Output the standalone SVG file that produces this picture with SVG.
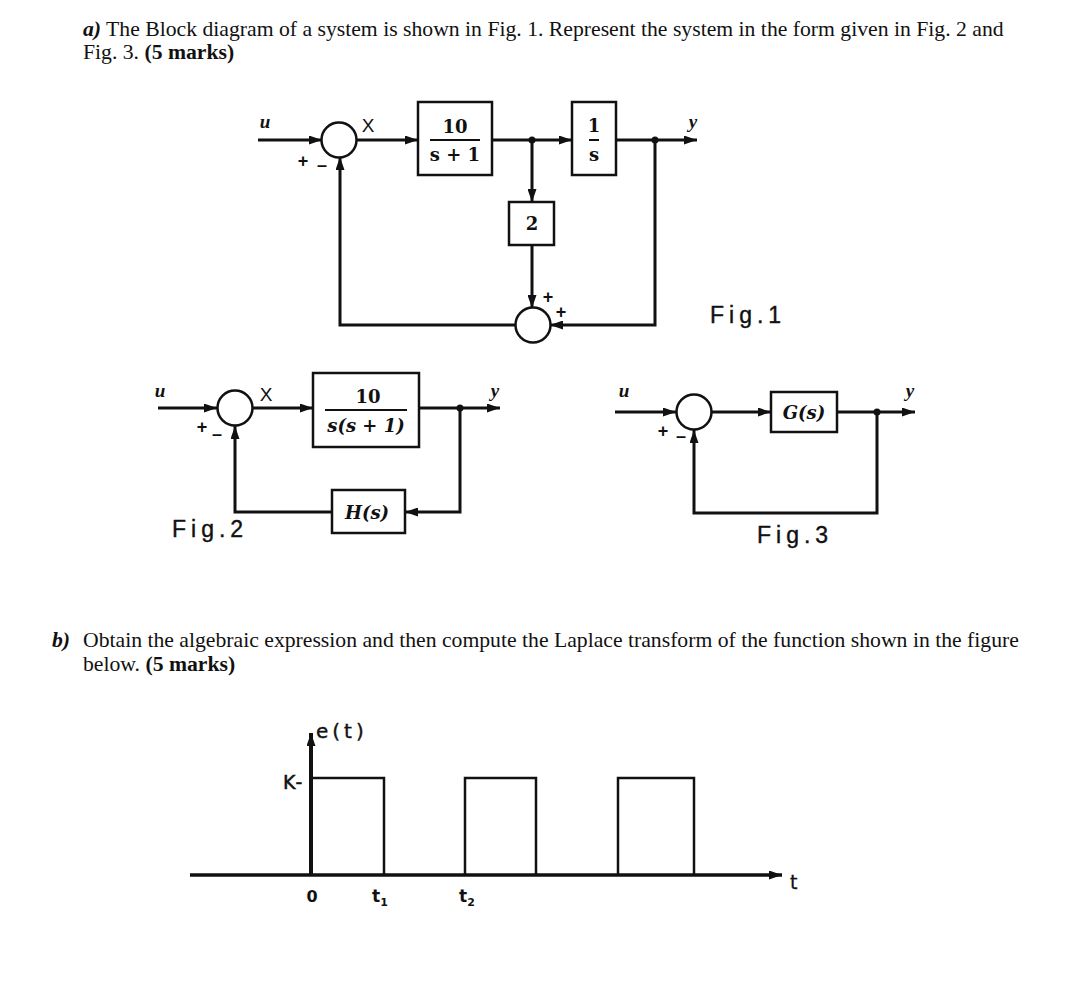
<svg xmlns="http://www.w3.org/2000/svg" width="1080" height="1005" viewBox="0 0 1080 1005">
<defs>
<marker id="ah" viewBox="0 0 13 9" refX="13" refY="4.5" markerWidth="13" markerHeight="9" markerUnits="userSpaceOnUse" orient="auto">
<path d="M0,0 L13,4.5 L0,9 z" fill="#111"/>
</marker>
<style>
.txt{font-family:"Liberation Serif",serif;font-size:21.7px;fill:#111}
.b{font-weight:bold}
.it{font-style:italic}
.wire{fill:none;stroke:#111;stroke-width:3;stroke-linejoin:miter}
.arr{marker-end:url(#ah)}
.box{fill:#fff;stroke:#111;stroke-width:2.5}
.sum{fill:#fff;stroke:#111;stroke-width:2.5}
.dot{fill:#111}
.blk{font-family:"DejaVu Serif","Liberation Serif",serif;font-weight:bold;font-size:18px;fill:#111;text-anchor:middle}
.bi{font-style:italic}
.var{font-family:"Liberation Serif",serif;font-weight:bold;font-style:italic;font-size:19px;fill:#111;text-anchor:middle}
.sign{font-family:"Liberation Sans",sans-serif;font-weight:bold;font-size:18px;fill:#111;text-anchor:middle}
.xl{font-family:"Liberation Sans",sans-serif;font-size:19px;fill:#111;text-anchor:middle}
.fig{font-family:"Liberation Sans",sans-serif;font-size:23px;letter-spacing:5px;fill:#111;stroke:#111;stroke-width:0.4}
.frac{stroke:#111;stroke-width:2}
.gl{font-family:"DejaVu Sans","Liberation Sans",sans-serif;fill:#111}
</style>
</defs>
<rect width="1080" height="1005" fill="#fff"/>

<g id="question-a">
<text class="txt" x="83" y="36"><tspan class="b it">a)</tspan> The Block diagram of a system is shown in Fig. 1. Represent the system in the form given in Fig. 2 and</text>
<text class="txt" x="83" y="59">Fig. 3. <tspan class="b">(5 marks)</tspan></text>
</g>

<!-- Fig.1 -->
<g id="fig1-connectors">
<path class="wire arr" d="M258,140 H322"/>
<path class="wire arr" d="M357,140 H418"/>
<path class="wire arr" d="M492,140 H572"/>
<path class="wire arr" d="M616,140 H697"/>
<path class="wire arr" d="M532,140 V202"/>
<path class="wire arr" d="M532,245 V308"/>
<path class="wire arr" d="M655,140 V325 H550"/>
<path class="wire arr" d="M516,325 H340 V157"/>
<circle class="dot" cx="532" cy="140" r="3.5"/>
<circle class="dot" cx="655" cy="140" r="3.5"/>
</g>
<g id="fig1-sum1">
<circle class="sum" cx="339" cy="140" r="17.5"/>
<text class="sign" x="303" y="167">+</text>
<text class="sign" x="322" y="171">–</text>
</g>
<g id="fig1-labels">
<text class="var" x="265" y="128">u</text>
<text class="xl" x="368" y="132">X</text>
<text class="var" x="693" y="128">y</text>
</g>
<g id="fig1-g1">
<rect class="box" x="418" y="102" width="74" height="73"/>
<text class="blk" x="455" y="133" font-size="22">10</text>
<line class="frac" x1="430" y1="140" x2="480" y2="140"/>
<text class="blk" x="455" y="161" font-size="18">s + 1</text>
</g>
<g id="fig1-g2">
<rect class="box" x="572" y="102" width="44" height="73"/>
<text class="blk" x="594" y="132" font-size="15">1</text>
<line class="frac" x1="589" y1="140" x2="599" y2="140"/>
<text class="blk" x="594" y="161" font-size="15">s</text>
</g>
<g id="fig1-gain">
<rect class="box" x="509" y="202" width="45" height="43"/>
<text class="blk" x="532" y="230" font-size="16">2</text>
</g>
<g id="fig1-sum2">
<circle class="sum" cx="533" cy="325" r="17.5"/>
<text class="sign" x="548" y="303">+</text>
<text class="sign" x="561" y="318">+</text>
</g>
<text id="fig1-caption" class="fig" x="710" y="323">Fig.1</text>

<!-- Fig.2 -->
<g id="fig2-connectors">
<path class="wire arr" d="M158,408 H217"/>
<path class="wire arr" d="M253,408 H313"/>
<path class="wire arr" d="M419,408 H500"/>
<path class="wire arr" d="M460,408 V512 H405"/>
<path class="wire arr" d="M332,512 H235 V426"/>
<circle class="dot" cx="460" cy="408" r="3.5"/>
</g>
<g id="fig2-sum">
<circle class="sum" cx="235" cy="408" r="17.5"/>
<text class="sign" x="202" y="433">+</text>
<text class="sign" x="217" y="440">–</text>
</g>
<g id="fig2-labels">
<text class="var" x="160" y="397">u</text>
<text class="xl" x="266" y="401">X</text>
<text class="var" x="495" y="397">y</text>
</g>
<g id="fig2-g">
<rect class="box" x="313" y="373" width="106" height="74"/>
<text class="blk" x="368" y="403" font-size="17">10</text>
<line class="frac" x1="325" y1="410" x2="407" y2="410"/>
<text class="blk bi" x="366" y="432" font-size="18">s(s + 1)</text>
</g>
<g id="fig2-h">
<rect class="box" x="332" y="490" width="73" height="43"/>
<text class="blk bi" x="367" y="519" font-size="18">H(s)</text>
</g>
<text id="fig2-caption" class="fig" x="172" y="537">Fig.2</text>

<!-- Fig.3 -->
<g id="fig3-connectors">
<path class="wire arr" d="M615,412 H676"/>
<path class="wire arr" d="M712,412 H771"/>
<path class="wire arr" d="M837,412 H915"/>
<path class="wire arr" d="M877,412 V513 H694 V430"/>
<circle class="dot" cx="877" cy="412" r="3.5"/>
</g>
<g id="fig3-sum">
<circle class="sum" cx="694" cy="412" r="17.5"/>
<text class="sign" x="663" y="437">+</text>
<text class="sign" x="681" y="442">–</text>
</g>
<g id="fig3-labels">
<text class="var" x="624" y="397">u</text>
<text class="var" x="910" y="397">y</text>
</g>
<g id="fig3-g">
<rect class="box" x="771" y="392" width="66" height="40"/>
<text class="blk bi" x="804" y="419" font-size="18">G(s)</text>
</g>
<text id="fig3-caption" class="fig" x="757" y="543">Fig.3</text>

<g id="question-b">
<text class="txt" x="52" y="647"><tspan class="b it">b)</tspan></text>
<text class="txt" x="83" y="647">Obtain the algebraic expression and then compute the Laplace transform of the function shown in the figure</text>
<text class="txt" x="83" y="671">below. <tspan class="b">(5 marks)</tspan></text>
</g>

<g id="graph">
<path class="wire arr" d="M190,875 H782" style="stroke-width:3.5"/>
<path class="wire arr" d="M311,875 V733" style="stroke-width:4"/>
<path fill="none" stroke="#111" stroke-width="2.5" d="M311,778 H384 V875 M465,875 V778 H536 V875 M618,875 V778 H694 V875"/>
<text class="gl" x="316" y="738" font-size="20" letter-spacing="4" stroke="#111" stroke-width="0.4">e(t)</text>
<text class="gl" x="283" y="789" font-size="19" letter-spacing="2" stroke="#111" stroke-width="0.5">K-</text>
<text class="gl" x="312" y="902" font-size="16" font-weight="bold" text-anchor="middle">0</text>
<text class="gl" x="372" y="902" font-size="17" font-weight="bold">t<tspan font-size="11" dy="4">1</tspan></text>
<text class="gl" x="459" y="902" font-size="17" font-weight="bold">t<tspan font-size="11" dy="4">2</tspan></text>
<text class="gl" x="790" y="889" font-size="19" stroke="#111" stroke-width="0.3">t</text>
</g>
</svg>
